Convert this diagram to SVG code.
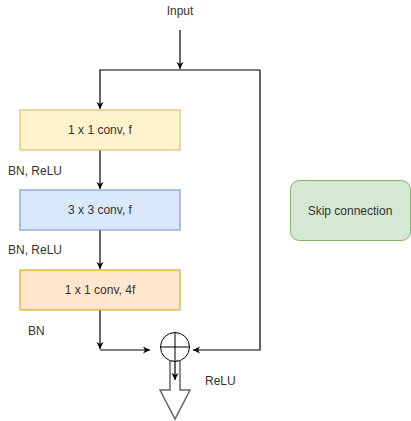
<svg xmlns="http://www.w3.org/2000/svg" width="411" height="421" viewBox="0 0 411 421">
<defs>
<marker id="arr" markerWidth="8" markerHeight="8" refX="7" refY="4" orient="auto" markerUnits="userSpaceOnUse">
<path d="M0,0.5 L7,4 L0,7.5 L2,4 Z" fill="#000"/>
</marker>
</defs>
<style>
text{font-family:"Liberation Sans",Arial,sans-serif;font-size:12px;fill:#333;}
.c{text-anchor:middle;dominant-baseline:central;}
.e{fill:none;stroke:#000;stroke-width:1.2;}
</style>
<rect width="411" height="421" fill="#fff"/>
<g id="connectors">
<line class="e" x1="180" y1="30" x2="180" y2="69" marker-end="url(#arr)"/>
<polyline class="e" points="260,70 100,70 100,109" marker-end="url(#arr)"/>
<line class="e" x1="100" y1="150" x2="100" y2="189" marker-end="url(#arr)"/>
<line class="e" x1="100" y1="230" x2="100" y2="269" marker-end="url(#arr)"/>
<line class="e" x1="100" y1="310" x2="100" y2="349" marker-end="url(#arr)"/>
<line class="e" x1="100" y1="350" x2="150" y2="350" marker-end="url(#arr)"/>
<polyline class="e" points="260,70 260,350 193,350" marker-end="url(#arr)"/>
</g>
<g id="input"><text class="c" x="180" y="11">Input</text></g>
<g id="conv1">
<rect x="20" y="110" width="160" height="40" fill="#fff2cc" stroke="#d6b656"/>
<text class="c" x="100" y="130">1 x 1 conv, f</text>
</g>
<g id="label1"><text x="8" y="175">BN, ReLU</text></g>
<g id="conv2">
<rect x="20" y="190" width="160" height="40" fill="#dae8fc" stroke="#6c8ebf"/>
<text class="c" x="100" y="210">3 x 3 conv, f</text>
</g>
<g id="label2"><text x="8" y="254">BN, ReLU</text></g>
<g id="conv3">
<rect x="20" y="270" width="160" height="40" fill="#ffe6cc" stroke="#d79b00"/>
<text class="c" x="100" y="290">1 x 1 conv, 4f</text>
</g>
<g id="label3"><text x="28" y="335">BN</text></g>
<g id="sum">
<circle cx="175" cy="347" r="14.5" fill="#fff" stroke="#000" stroke-width="1"/>
<line x1="160.5" y1="347" x2="189.5" y2="347" stroke="#000"/>
<line x1="175" y1="332.5" x2="175" y2="361.5" stroke="#000"/>
</g>
<g id="output">
<path d="M170,361 L180,361 L180,390 L190,390 L175,419 L160,390 L170,390 Z" fill="none" stroke="#666" stroke-width="1.5"/>
<line class="e" x1="175" y1="361" x2="175" y2="380" marker-end="url(#arr)"/>
</g>
<g id="label4"><text x="205" y="385">ReLU</text></g>
<g id="skip">
<rect x="290.5" y="180.5" width="120" height="60" rx="9" fill="#d5e8d4" stroke="#82b366"/>
<text class="c" x="350" y="211">Skip connection</text>
</g>
</svg>
